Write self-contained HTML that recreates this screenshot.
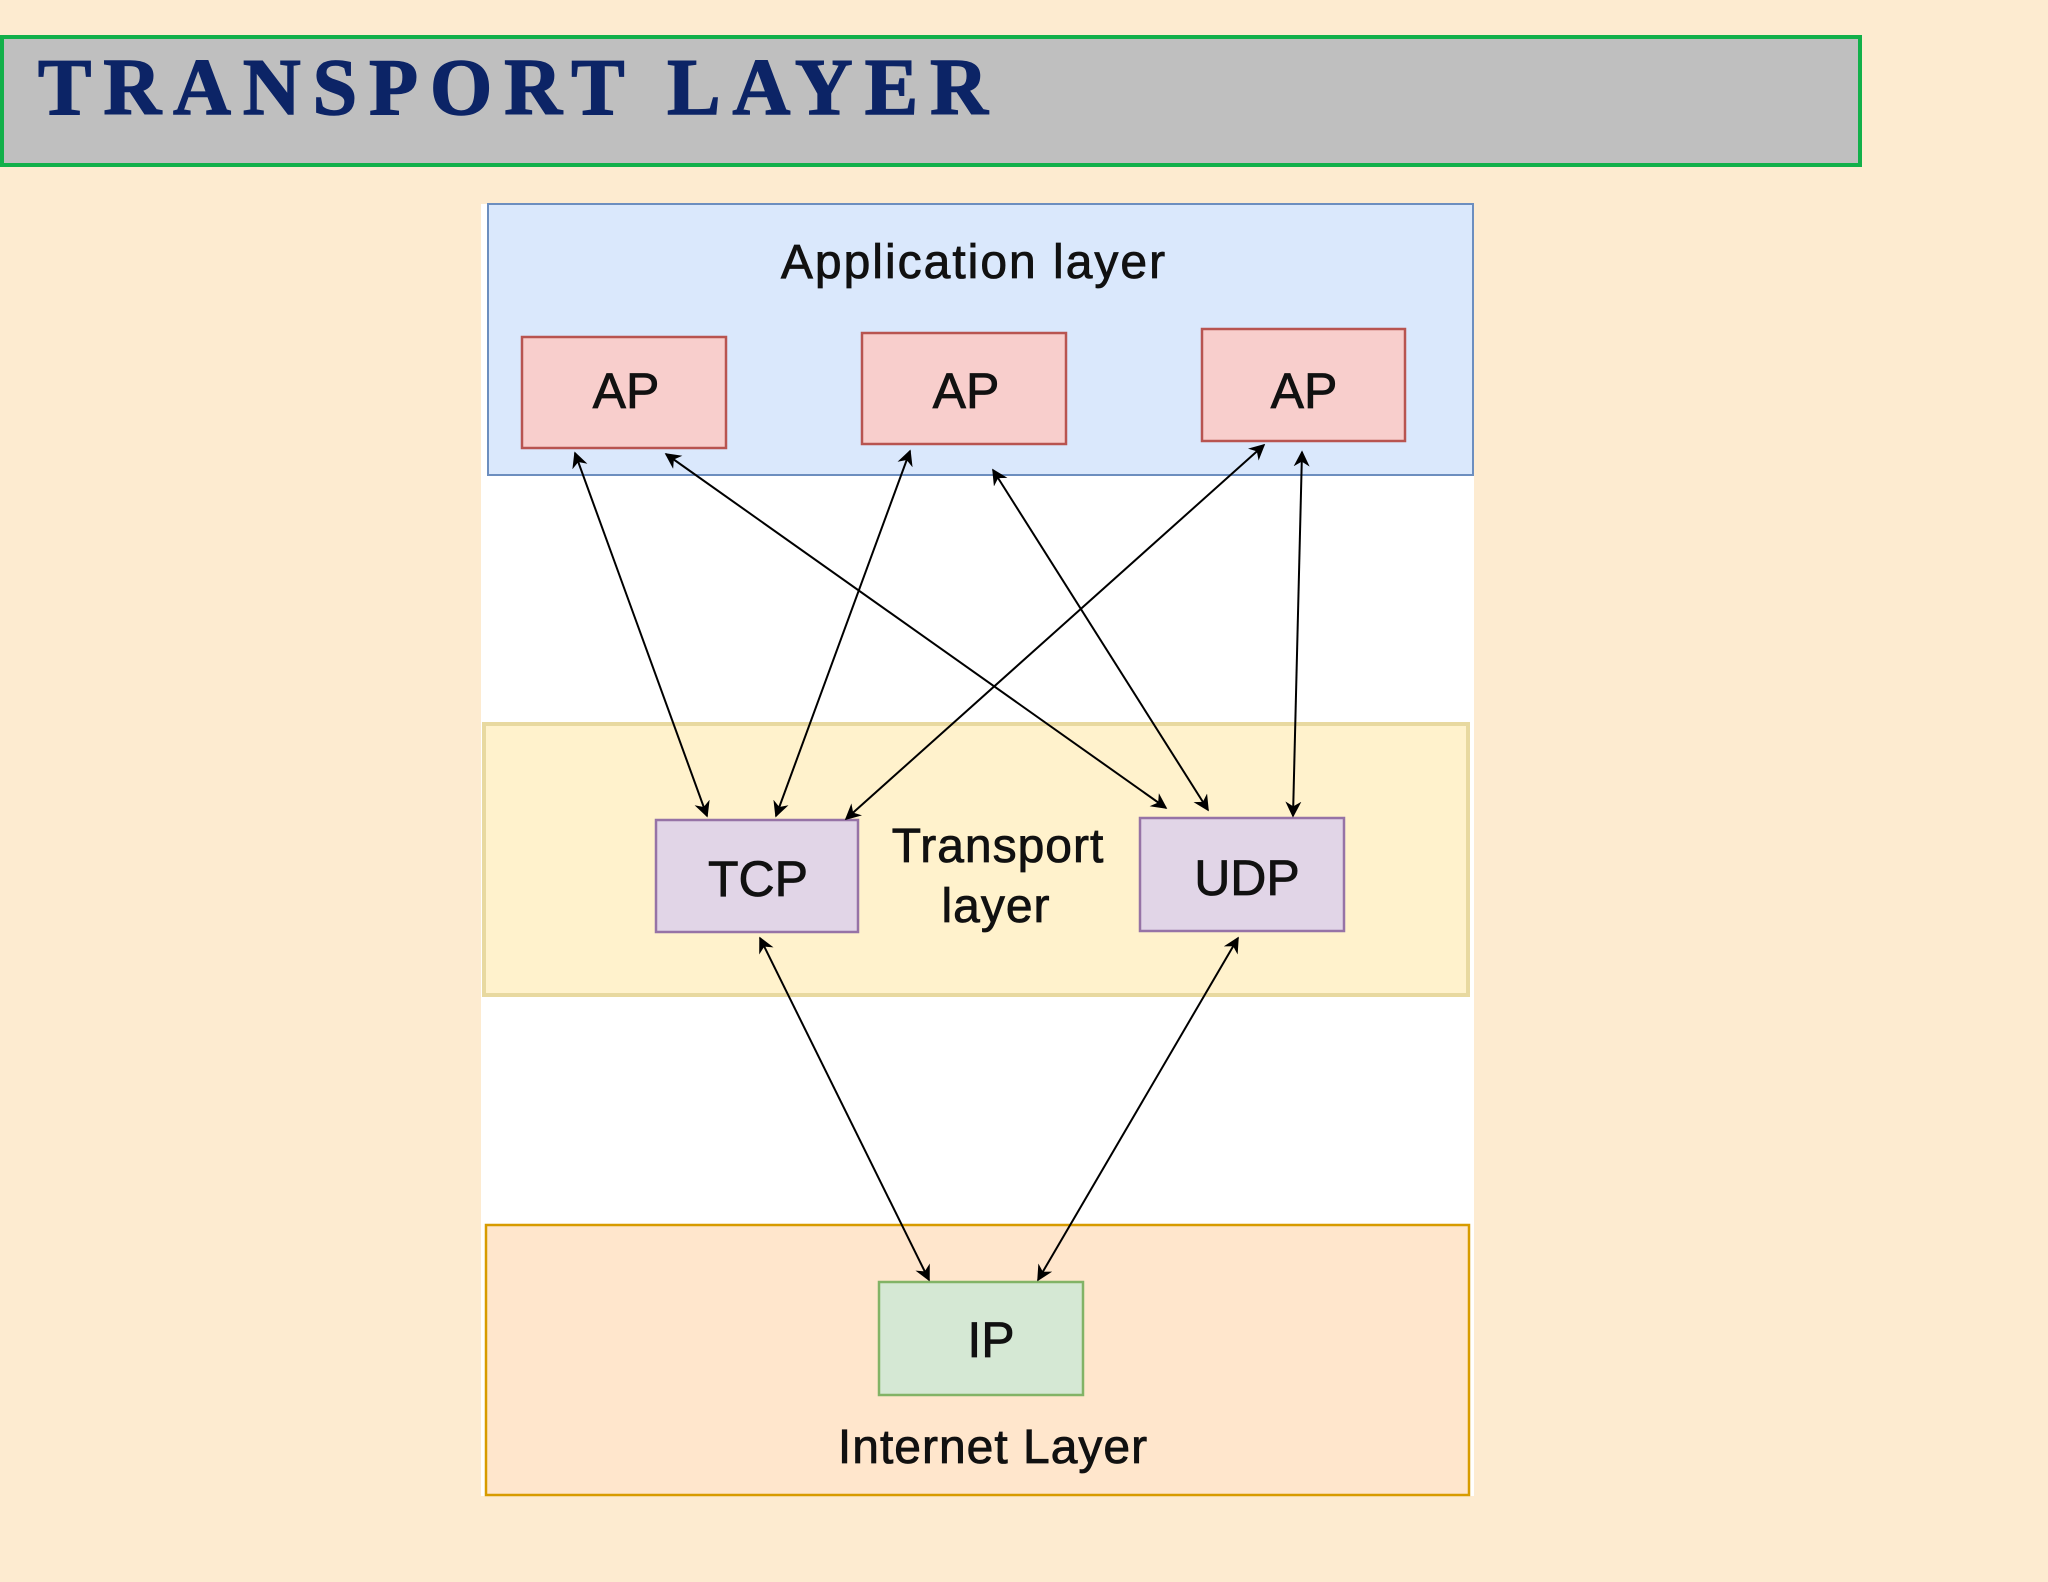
<!DOCTYPE html>
<html><head><meta charset="utf-8"><style>
html,body{margin:0;padding:0;background:#fdebd0;}
</style></head><body>
<svg width="2048" height="1582" viewBox="0 0 2048 1582" xmlns="http://www.w3.org/2000/svg" style="display:block">
<defs>
<marker id="a" viewBox="0 0 10 10" refX="9" refY="5" markerWidth="16" markerHeight="16" orient="auto-start-reverse" markerUnits="userSpaceOnUse">
<path d="M0,0 L10,5 L0,10 L3,5 z" fill="#000"/>
</marker>
</defs>
<rect x="0" y="0" width="2048" height="1582" fill="#fdebd0"/>
<rect x="2" y="37" width="1858" height="128" fill="#bfbfbf" stroke="#12b04a" stroke-width="4"/>
<text x="38" y="114" font-family="Liberation Serif, serif" font-weight="bold" font-size="80" fill="#0c2466" letter-spacing="12" stroke="#0c2466" stroke-width="1.5">TRANSPORT LAYER</text>

<rect x="481" y="204" width="993" height="1292" fill="#ffffff"/>
<rect x="488" y="204" width="985" height="271" fill="#dae8fc" stroke="#6c8ebf" stroke-width="2"/>
<g font-family="Liberation Sans, sans-serif" fill="#111" text-anchor="middle" stroke="#111" stroke-width="0.8">
<text x="974" y="278" font-size="48" letter-spacing="2">Application layer</text>
</g>
<rect x="522" y="337" width="204" height="111" fill="#f8cecc" stroke="#b85450" stroke-width="2.5"/>
<rect x="862" y="333" width="204" height="111" fill="#f8cecc" stroke="#b85450" stroke-width="2.5"/>
<rect x="1202" y="329" width="203" height="112" fill="#f8cecc" stroke="#b85450" stroke-width="2.5"/>
<g font-family="Liberation Sans, sans-serif" font-size="50" fill="#111" text-anchor="middle" stroke="#111" stroke-width="0.8">
<text x="626" y="408">AP</text><text x="966" y="408">AP</text><text x="1304" y="408">AP</text>
</g>

<rect x="484" y="724" width="984" height="271" fill="#fff2cc" stroke="#e8d9a0" stroke-width="4"/>
<rect x="656" y="820" width="202" height="112" fill="#e1d5e7" stroke="#9673a6" stroke-width="2.5"/>
<rect x="1140" y="818" width="204" height="113" fill="#e1d5e7" stroke="#9673a6" stroke-width="2.5"/>
<g font-family="Liberation Sans, sans-serif" font-size="50" fill="#111" text-anchor="middle" stroke="#111" stroke-width="0.8">
<text x="758" y="896">TCP</text><text x="1247" y="895">UDP</text>
<text x="998" y="862" font-size="48" letter-spacing="1">Transport</text><text x="996" y="922" font-size="48" letter-spacing="1">layer</text>
</g>

<rect x="486" y="1225" width="983" height="270" fill="#ffe6cc" stroke="#d79b00" stroke-width="2.5"/>
<rect x="879" y="1282" width="204" height="113" fill="#d5e8d4" stroke="#82b366" stroke-width="2.5"/>
<g font-family="Liberation Sans, sans-serif" font-size="50" fill="#111" text-anchor="middle" stroke="#111" stroke-width="0.8">
<text x="991" y="1357">IP</text>
<text x="993" y="1463" font-size="48" letter-spacing="1">Internet Layer</text>
</g>

<g stroke="#000" stroke-width="2" marker-start="url(#a)" marker-end="url(#a)">
<line x1="575" y1="453" x2="707" y2="816"/>
<line x1="666" y1="454" x2="1166" y2="808"/>
<line x1="910" y1="451" x2="776" y2="816"/>
<line x1="993" y1="470" x2="1208" y2="810"/>
<line x1="1264" y1="445" x2="846" y2="819"/>
<line x1="1302" y1="452" x2="1293" y2="816"/>
<line x1="760" y1="938" x2="929" y2="1280"/>
<line x1="1238" y1="938" x2="1038" y2="1280"/>
</g>
</svg>
</body></html>
